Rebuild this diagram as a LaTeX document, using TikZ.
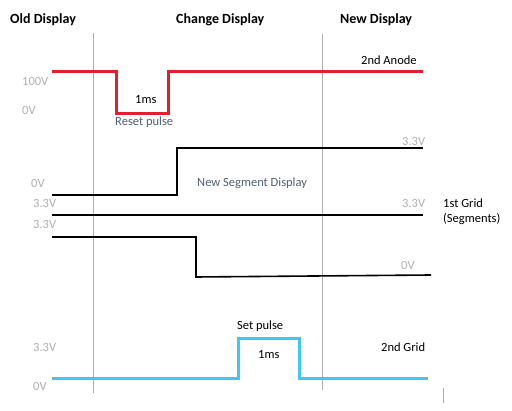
\documentclass[tikz,border=0pt]{standalone}
\usepackage{fontspec}
\setmainfont{Carlito}
\definecolor{sigred}{RGB}{225,30,50}
\definecolor{sigblue}{RGB}{60,200,240}
\definecolor{vgray}{RGB}{170,175,180}
\definecolor{lblgray}{RGB}{175,175,175}
\definecolor{slate}{RGB}{80,95,115}
\tikzset{
  title/.style={font=\bfseries\fontsize{14}{16}\selectfont, anchor=west, inner sep=0pt},
  volt/.style={font=\fontsize{12.5}{14}\selectfont, text=lblgray, anchor=west, inner sep=0pt},
  lbl/.style={font=\fontsize{12.5}{14}\selectfont, anchor=west, inner sep=0pt},
  slbl/.style={lbl, text=slate},
  divider/.style={draw=vgray, line width=0.9pt},
  redsig/.style={draw=sigred, line width=3pt},
  blacksig/.style={draw=black, line width=1.6pt},
  bluesig/.style={draw=sigblue, line width=3pt},
}
\begin{document}
\begin{tikzpicture}[x=1pt,y=-1pt]
\useasboundingbox (0,0) rectangle (512,411);
% titles
\node[title] (t1) at (10,20) {Old Display};
\node[title] (t2) at (176,20) {Change Display};
\node[title] (t3) at (340,20) {New Display};
% dividers
\coordinate (d1a) at (93,33); \coordinate (d1b) at (93,393);
\coordinate (d2a) at (322,34); \coordinate (d2b) at (322,390);
\coordinate (d3a) at (443,388); \coordinate (d3b) at (443,403);
\draw[divider] (d1a) -- (d1b);
\draw[divider] (d2a) -- (d2b);
\draw[divider] (d3a) -- (d3b);
% red signal
\coordinate (r0) at (52,72); \coordinate (r1) at (116,72); \coordinate (r2) at (116,114);
\coordinate (r3) at (168,114); \coordinate (r4) at (168,72); \coordinate (r5) at (423,72);
\draw[redsig] (r0) -- (r1) -- (r2) -- (r3) -- (r4) -- (r5);
\node[volt] (v100) at (22,81) {100V};
\node[volt] (v0a) at (22,110) {0V};
\node[lbl] (ms1) at (135,100) {1ms};
\node[slbl] (rp) at (115,122) {Reset pulse};
\node[lbl] (an) at (361,60) {2nd Anode};
% black 1
\coordinate (a0) at (52,195); \coordinate (a1) at (177,195); \coordinate (a2) at (177,148); \coordinate (a3) at (423,148);
\draw[blacksig] (a0) -- (a1) -- (a2) -- (a3);
\node[volt] (va1) at (402,141) {3.3V};
\node[volt] (va0) at (31,183) {0V};
\node[slbl] (nsd) at (197,183) {New Segment Display};
% black 2
\coordinate (b0) at (52,215); \coordinate (b1) at (423,215);
\draw[blacksig] (b0) -- (b1);
\node[volt] (vb1) at (33,203) {3.3V};
\node[volt] (vb2) at (402,203) {3.3V};
\node[lbl] (g1) at (443,203) {1st Grid};
\node[lbl] (g1s) at (443,219) {(Segments)};
% black 3
\coordinate (c0) at (52,237); \coordinate (c1) at (196,237); \coordinate (c2) at (196,277); \coordinate (c3) at (431,275);
\draw[blacksig] (c0) -- (c1) -- (c2) -- (c3);
\node[volt] (vc1) at (33,224) {3.3V};
\node[volt] (vc0) at (401,265) {0V};
% blue
\coordinate (e0) at (52,379); \coordinate (e1) at (238,379); \coordinate (e2) at (238,339);
\coordinate (e3) at (299,339); \coordinate (e4) at (299,379); \coordinate (e5) at (428,379);
\draw[bluesig] (e0) -- (e1) -- (e2) -- (e3) -- (e4) -- (e5);
\node[lbl] (sp) at (237,326) {Set pulse};
\node[lbl] (ms2) at (258,355) {1ms};
\node[lbl] (g2) at (381,347) {2nd Grid};
\node[volt] (ve1) at (33,347) {3.3V};
\node[volt] (ve0) at (33,386) {0V};
\end{tikzpicture}
\end{document}
